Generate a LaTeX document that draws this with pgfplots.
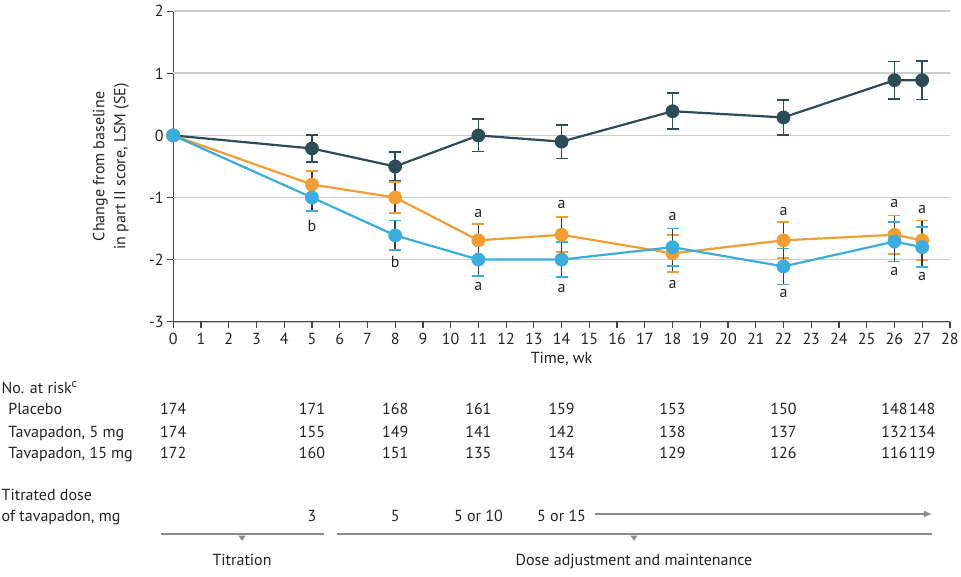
\documentclass[border=0pt]{standalone}
\usepackage{pgfplots}
\pgfplotsset{compat=1.18}
\usetikzlibrary{arrows.meta}
\usepackage{fontspec}
\setmainfont{PT Sans}
\definecolor{plc}{RGB}{44,77,88}
\definecolor{org}{RGB}{243,158,52}
\definecolor{blu}{RGB}{58,172,222}
\definecolor{txt}{RGB}{35,35,35}
\definecolor{gln}{RGB}{138,138,138}
\definecolor{grd}{RGB}{205,205,205}
\pgfplotstableread{
x y e
0 0 0
5 -0.21 0.22
8 -0.50 0.23
11 0.00 0.26
14 -0.10 0.27
18 0.39 0.29
22 0.29 0.28
26 0.89 0.30
27 0.89 0.31
}\placebo
\pgfplotstableread{
x y e
0 0 0
5 -0.79 0.22
8 -1.00 0.25
11 -1.69 0.26
14 -1.60 0.28
18 -1.90 0.30
22 -1.69 0.29
26 -1.60 0.31
27 -1.69 0.32
}\tavfive
\pgfplotstableread{
x y e
0 0 0
5 -1.00 0.22
8 -1.61 0.24
11 -2.00 0.27
14 -2.00 0.28
18 -1.80 0.30
22 -2.11 0.29
26 -1.71 0.32
27 -1.80 0.32
}\tavfifteen
\begin{document}
\fontsize{8}{10.5}\selectfont
\begin{tikzpicture}
\begin{axis}[
  scale only axis,
  width=388.35pt, height=155.2pt,
  xmin=0, xmax=28, ymin=-3, ymax=2,
  clip=false,
  axis lines=left,
  axis line style={-, line width=0.6pt, color=txt!85},
  xtick={0,1,...,28},
  ytick={-3,-2,-1,0,1,2},
  yticklabels={-3,-2,-1,0,1,2},
  tick align=outside,
  major tick length=3pt,
  tick style={line width=0.6pt, color=txt!85},
  ymajorgrids=true,
  major grid style={line width=0.9pt, color=grd},
  /pgf/number format/assume math mode=true,
  ticklabel style={font=\fontsize{8}{10}\selectfont, text=txt},
  yticklabel style={xshift=1pt},
  ylabel={Change from baseline\\in part II score, LSM (SE)},
  ylabel style={at={(axis description cs:-0.0802,0.5)}, anchor=center, align=center, text=txt},
  every axis plot/.append style={line width=1.1pt},
]
% horizontal grid lines
\draw[draw=grd, line width=0.9pt] (axis cs:0,2) -- (axis cs:28,2);
\draw[draw=grd, line width=0.9pt] (axis cs:0,1) -- (axis cs:28,1);
\draw[draw=grd, line width=0.9pt] (axis cs:0,0) -- (axis cs:28,0);
\draw[draw=grd, line width=0.9pt] (axis cs:0,-1) -- (axis cs:28,-1);
\draw[draw=grd, line width=0.9pt] (axis cs:0,-2) -- (axis cs:28,-2);
% Placebo
\addplot[color=plc, mark=*, mark size=2.9pt, mark options={solid, fill=plc, draw=plc},
  error bars/.cd, y dir=both, y explicit,
  error bar style={line width=0.75pt, color=plc},
  error mark options={rotate=90, mark size=3pt, line width=0.9pt, color=plc}]
  table[x=x, y=y, y error=e] {\placebo};
% Tavapadon 5 mg
\addplot[color=org, mark=*, mark size=2.9pt, mark options={solid, fill=org, draw=org},
  error bars/.cd, y dir=both, y explicit,
  error bar style={line width=0.75pt, color=txt!90},
  error mark options={rotate=90, mark size=3pt, line width=0.9pt, color=org}]
  table[x=x, y=y, y error=e] {\tavfive};
% Tavapadon 15 mg
\addplot[color=blu, mark=*, mark size=2.9pt, mark options={solid, fill=blu, draw=blu},
  error bars/.cd, y dir=both, y explicit,
  error bar style={line width=0.75pt, color=txt!90},
  error mark options={rotate=90, mark size=3pt, line width=0.9pt, color=blu}]
  table[x=x, y=y, y error=e] {\tavfifteen};

\node[text=txt, inner sep=0pt] at (axis cs:14,-3.61) {Time, wk};

% significance letters
\node[text=txt, inner sep=0pt, anchor=center] at (axis cs:5,-1.46) {b};
\node[text=txt, inner sep=0pt, anchor=center] at (axis cs:8,-2.04) {b};
\node[text=txt, inner sep=0pt, anchor=center] at (axis cs:11,-1.25) {a};
\node[text=txt, inner sep=0pt, anchor=center] at (axis cs:11,-2.44) {a};
\node[text=txt, inner sep=0pt, anchor=center] at (axis cs:14,-1.12) {a};
\node[text=txt, inner sep=0pt, anchor=center] at (axis cs:14,-2.46) {a};
\node[text=txt, inner sep=0pt, anchor=center] at (axis cs:18,-1.31) {a};
\node[text=txt, inner sep=0pt, anchor=center] at (axis cs:18,-2.40) {a};
\node[text=txt, inner sep=0pt, anchor=center] at (axis cs:22,-1.23) {a};
\node[text=txt, inner sep=0pt, anchor=center] at (axis cs:22,-2.54) {a};
\node[text=txt, inner sep=0pt, anchor=center] at (axis cs:26,-1.09) {a};
\node[text=txt, inner sep=0pt, anchor=center] at (axis cs:26,-2.20) {a};
\node[text=txt, inner sep=0pt, anchor=center] at (axis cs:27,-1.19) {a};
\node[text=txt, inner sep=0pt, anchor=center] at (axis cs:27,-2.28) {a};

% number at risk
\node[text=txt, inner sep=0pt, anchor=base west] at (axis cs:-6.20,-4.157) {No. at risk\textsuperscript{c}};
\node[text=txt, inner sep=0pt, anchor=base west] at (axis cs:-5.96,-4.495) {Placebo};
\node[text=txt, inner sep=0pt, anchor=base west] at (axis cs:-5.96,-4.865) {Tavapadon, 5 mg};
\node[text=txt, inner sep=0pt, anchor=base west] at (axis cs:-5.96,-5.204) {Tavapadon, 15 mg};
% Placebo row
\node[text=txt, inner sep=0pt, anchor=base] at (axis cs:0,-4.495) {174};
\node[text=txt, inner sep=0pt, anchor=base] at (axis cs:5,-4.495) {171};
\node[text=txt, inner sep=0pt, anchor=base] at (axis cs:8,-4.495) {168};
\node[text=txt, inner sep=0pt, anchor=base] at (axis cs:11,-4.495) {161};
\node[text=txt, inner sep=0pt, anchor=base] at (axis cs:14,-4.495) {159};
\node[text=txt, inner sep=0pt, anchor=base] at (axis cs:18,-4.495) {153};
\node[text=txt, inner sep=0pt, anchor=base] at (axis cs:22,-4.495) {150};
\node[text=txt, inner sep=0pt, anchor=base] at (axis cs:26,-4.495) {148};
\node[text=txt, inner sep=0pt, anchor=base] at (axis cs:27,-4.495) {148};
% 5 mg row
\node[text=txt, inner sep=0pt, anchor=base] at (axis cs:0,-4.865) {174};
\node[text=txt, inner sep=0pt, anchor=base] at (axis cs:5,-4.865) {155};
\node[text=txt, inner sep=0pt, anchor=base] at (axis cs:8,-4.865) {149};
\node[text=txt, inner sep=0pt, anchor=base] at (axis cs:11,-4.865) {141};
\node[text=txt, inner sep=0pt, anchor=base] at (axis cs:14,-4.865) {142};
\node[text=txt, inner sep=0pt, anchor=base] at (axis cs:18,-4.865) {138};
\node[text=txt, inner sep=0pt, anchor=base] at (axis cs:22,-4.865) {137};
\node[text=txt, inner sep=0pt, anchor=base] at (axis cs:26,-4.865) {132};
\node[text=txt, inner sep=0pt, anchor=base] at (axis cs:27,-4.865) {134};
% 15 mg row
\node[text=txt, inner sep=0pt, anchor=base] at (axis cs:0,-5.204) {172};
\node[text=txt, inner sep=0pt, anchor=base] at (axis cs:5,-5.204) {160};
\node[text=txt, inner sep=0pt, anchor=base] at (axis cs:8,-5.204) {151};
\node[text=txt, inner sep=0pt, anchor=base] at (axis cs:11,-5.204) {135};
\node[text=txt, inner sep=0pt, anchor=base] at (axis cs:14,-5.204) {134};
\node[text=txt, inner sep=0pt, anchor=base] at (axis cs:18,-5.204) {129};
\node[text=txt, inner sep=0pt, anchor=base] at (axis cs:22,-5.204) {126};
\node[text=txt, inner sep=0pt, anchor=base] at (axis cs:26,-5.204) {116};
\node[text=txt, inner sep=0pt, anchor=base] at (axis cs:27,-5.204) {119};
% titrated dose
\node[text=txt, inner sep=0pt, anchor=base west] at (axis cs:-6.20,-5.880) {Titrated dose};
\node[text=txt, inner sep=0pt, anchor=base west] at (axis cs:-6.20,-6.218) {of tavapadon, mg};
\node[text=txt, inner sep=0pt, anchor=base] at (axis cs:5,-6.218) {3};
\node[text=txt, inner sep=0pt, anchor=base] at (axis cs:8,-6.218) {5};
\node[text=txt, inner sep=0pt, anchor=base] at (axis cs:11,-6.218) {5 or 10};
\node[text=txt, inner sep=0pt, anchor=base] at (axis cs:14,-6.218) {5 or 15};
\draw[gln, line width=0.6pt, -{Latex[length=4pt,width=3.5pt]}] (axis cs:15.2,-6.098) -- (axis cs:27.35,-6.098);
\draw[gln, line width=0.9pt] (axis cs:-0.44,-6.42) -- (axis cs:5.43,-6.42);
\draw[gln, line width=0.9pt] (axis cs:5.90,-6.42) -- (axis cs:27.35,-6.42);
\fill[gln] (axis cs:2.35,-6.445) -- (axis cs:2.61,-6.445) -- (axis cs:2.48,-6.53) -- cycle;
\fill[gln] (axis cs:16.48,-6.445) -- (axis cs:16.74,-6.445) -- (axis cs:16.61,-6.53) -- cycle;
\node[text=txt, inner sep=0pt, anchor=base] at (axis cs:2.48,-6.927) {Titration};
\node[text=txt, inner sep=0pt, anchor=base] at (axis cs:16.61,-6.927) {Dose adjustment and maintenance};

\coordinate (BBll) at (axis cs:-6.247,-7.112);
\coordinate (BBur) at (axis cs:28.40,2.182);
\end{axis}
\pgfresetboundingbox
\useasboundingbox (BBll) rectangle (BBur);
\end{tikzpicture}
\end{document}
